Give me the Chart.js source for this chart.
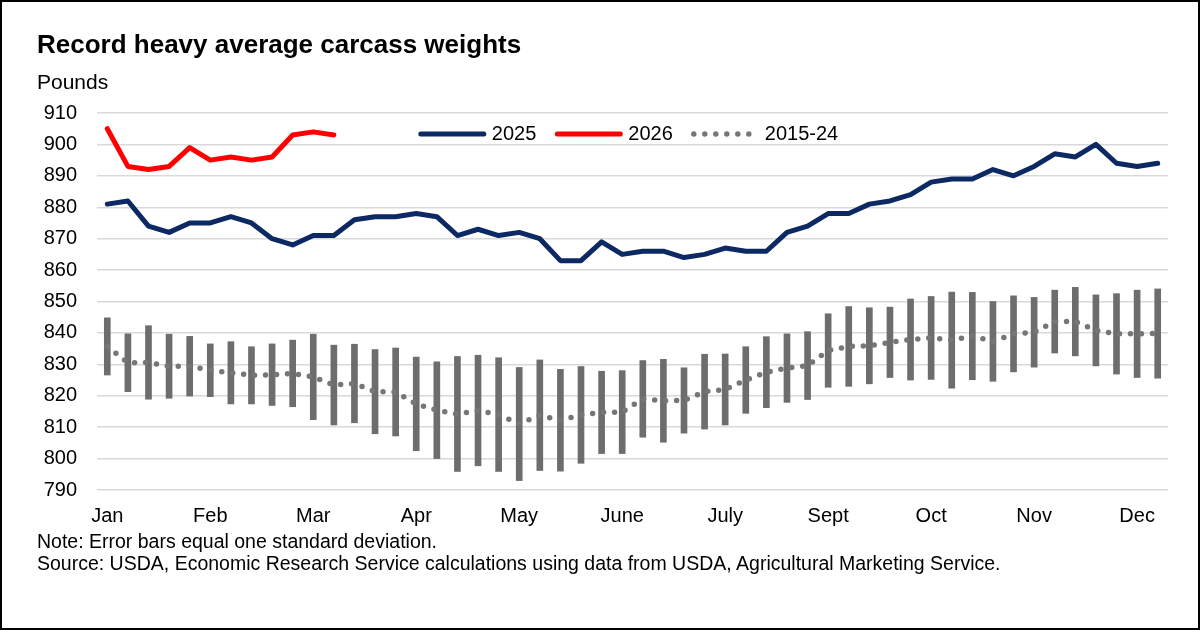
<!DOCTYPE html>
<html>
<head>
<meta charset="utf-8">
<script src="https://cdn.jsdelivr.net/npm/chart.js@4.4.1/dist/chart.umd.min.js"></script>
<style>
  html, body { margin: 0; padding: 0; background: #fff; }
  body { width: 1200px; height: 630px; position: relative; overflow: hidden; font-family: "Liberation Sans", Arial, sans-serif; color: #000; }
  #wrap { position: absolute; left: 0; top: 0; width: 1200px; height: 630px; }
  canvas { position: absolute; left: 0; top: 0; }
  .txt { position: absolute; white-space: nowrap; }
  #title { left: 37px; top: 31px; font-size: 26px; line-height: 26px; font-weight: bold; }
  #unit { left: 37px; top: 71px; font-size: 21px; line-height: 21px; }
  #note { left: 37px; top: 530px; font-size: 19.5px; line-height: 22px; }
  #frame { position: absolute; left: 0; top: 0; width: 1200px; height: 630px; box-sizing: border-box; border: 2px solid #000; pointer-events: none; }
</style>
</head>
<body>
<div id="wrap"><canvas id="c" width="1200" height="630"></canvas></div>
<div class="txt" id="title">Record heavy average carcass weights</div>
<div class="txt" id="unit">Pounds</div>
<div class="txt" id="note">Note: Error bars equal one standard deviation.<br>Source: USDA, Economic Research Service calculations using data from USDA, Agricultural Marketing Service.</div>
<div id="frame"></div>
<script>
// Weekly categories (52 weeks); month names shown at their weeks
const weekLabels = [
  'Jan','','','','',
  'Feb','','','','',
  'Mar','','','','',
  'Apr','','','','',
  'May','','','','',
  'June','','','','',
  'July','','','','',
  'Sept','','','','',
  'Oct','','','','',
  'Nov','','','','',
  'Dec',''
];

// 2025 weekly average carcass weight (pounds)
const series2025 = [
  881, 882, 874, 872, 875, 875, 877, 875, 870, 868,
  871, 871, 876, 877, 877, 878, 877, 871, 873, 871,
  872, 870, 863, 863, 869, 865, 866, 866, 864, 865,
  867, 866, 866, 872, 874, 878, 878, 881, 882, 884,
  888, 889, 889, 892, 890, 893, 897, 896, 900, 894,
  893, 894
];

// 2026 weekly average carcass weight (pounds)
const series2026 = [905, 893, 892, 893, 899, 895, 896, 895, 896, 903, 904, 903];

// 2015-24 weekly average (pounds)
const avg2015to24 = [
  835.7, 830.5, 830.6, 829.4, 829.4, 828.1, 827.3, 826.5, 826.7, 827.1,
  826.0, 823.4, 823.9, 821.3, 821.2, 817.4, 815.4, 814.2, 815.3, 814.0,
  811.0, 813.8, 812.2, 813.9, 814.7, 814.8, 819.0, 818.4, 818.5, 821.3,
  822.0, 825.0, 827.5, 828.8, 829.6, 834.4, 835.7, 835.9, 837.0, 837.9,
  838.4, 837.7, 839.0, 837.3, 839.7, 840.2, 843.6, 843.6, 840.8, 839.7,
  839.7, 839.8
];

// 2015-24 one standard deviation (pounds)
const sd2015to24 = [
  9.1, 9.2, 11.7, 10.2, 9.5, 8.4, 9.9, 9.1, 9.8, 10.6,
  13.6, 12.7, 12.5, 13.4, 14.0, 14.9, 15.4, 18.3, 17.6, 18.1,
  18.0, 17.6, 16.2, 15.4, 13.1, 13.2, 12.2, 13.2, 10.4, 11.9,
  11.3, 10.6, 11.3, 10.9, 10.8, 11.7, 12.7, 12.1, 11.2, 12.9,
  13.2, 15.3, 13.9, 12.7, 12.1, 11.1, 10.0, 10.9, 11.3, 12.8,
  13.9, 14.2
];

const yMin = 790, yMax = 910, yStep = 10;

const errorRanges = avg2015to24.map((m, i) => [m - sd2015to24[i], m + sd2015to24[i]]);

const FONT = "'Liberation Sans', Arial, sans-serif";

// Legend drawn inside the plot area, centred, in one row
const inlineLegend = {
  id: 'inlineLegend',
  afterDraw(chart) {
    const ctx = chart.ctx;
    const area = chart.chartArea;
    const items = chart.data.datasets.filter(d => d.type === 'line');
    const sample = 67, textGap = 6, itemGap = 19;
    ctx.save();
    ctx.font = '20px ' + FONT;
    const widths = items.map(d => sample + textGap + ctx.measureText(d.label).width);
    const total = widths.reduce((a, b) => a + b, 0) + itemGap * (items.length - 1);
    let x = (area.left + area.right) / 2 - total / 2 - 4;
    const y = area.top + 21;
    items.forEach((d, i) => {
      ctx.beginPath();
      ctx.strokeStyle = d.borderColor;
      ctx.lineWidth = d.borderWidth;
      ctx.lineCap = 'round';
      ctx.setLineDash(d.borderDash || []);
      ctx.moveTo(x + 2, y);
      ctx.lineTo(x + sample - 2, y);
      ctx.stroke();
      ctx.setLineDash([]);
      ctx.fillStyle = '#000';
      ctx.textBaseline = 'middle';
      ctx.textAlign = 'left';
      ctx.fillText(d.label, x + sample + textGap, y);
      x += widths[i] + itemGap;
    });
    ctx.restore();
  }
};

new Chart(document.getElementById('c'), {
  type: 'bar',
  data: {
    labels: weekLabels,
    datasets: [
      {
        type: 'line', label: '2025', data: series2025,
        borderColor: '#0c2963', backgroundColor: '#0c2963',
        borderWidth: 5, pointRadius: 0, tension: 0,
        borderJoinStyle: 'round', borderCapStyle: 'round', order: 1
      },
      {
        type: 'line', label: '2026', data: series2026,
        borderColor: '#ff0000', backgroundColor: '#ff0000',
        borderWidth: 5, pointRadius: 0, tension: 0,
        borderJoinStyle: 'round', borderCapStyle: 'round', order: 2
      },
      {
        type: 'line', label: '2015-24', data: avg2015to24,
        borderColor: '#767676', backgroundColor: '#767676',
        borderWidth: 5.5, pointRadius: 0, tension: 0,
        borderDash: [0, 11], borderCapStyle: 'round', order: 3
      },
      {
        type: 'bar', label: 'Std dev', data: errorRanges,
        backgroundColor: '#6d6d6d', borderWidth: 0,
        barThickness: 6, order: 4
      }
    ]
  },
  options: {
    responsive: false,
    animation: false,
    events: [],
    layout: { padding: { left: 0, right: 32, top: 113, bottom: 0 } },
    plugins: {
      title: { display: false },
      tooltip: { enabled: false },
      legend: { display: false }
    },
    scales: {
      x: {
        offset: true,
        grid: { display: false, drawTicks: false },
        border: { display: false },
        ticks: {
          autoSkip: false, maxRotation: 0, minRotation: 0,
          padding: 14, color: '#000',
          font: { family: FONT, size: 20 }
        },
        afterFit: (s) => { s.height = 140; }
      },
      y: {
        min: yMin, max: yMax,
        grid: { color: '#d9d9d9', lineWidth: 1.5, drawTicks: false },
        border: { display: false },
        ticks: {
          stepSize: yStep, padding: 20, color: '#000',
          font: { family: FONT, size: 20 }
        },
        afterFit: (s) => { s.width = 97; }
      }
    }
  },
  plugins: [inlineLegend]
});
</script>
</body>
</html>
